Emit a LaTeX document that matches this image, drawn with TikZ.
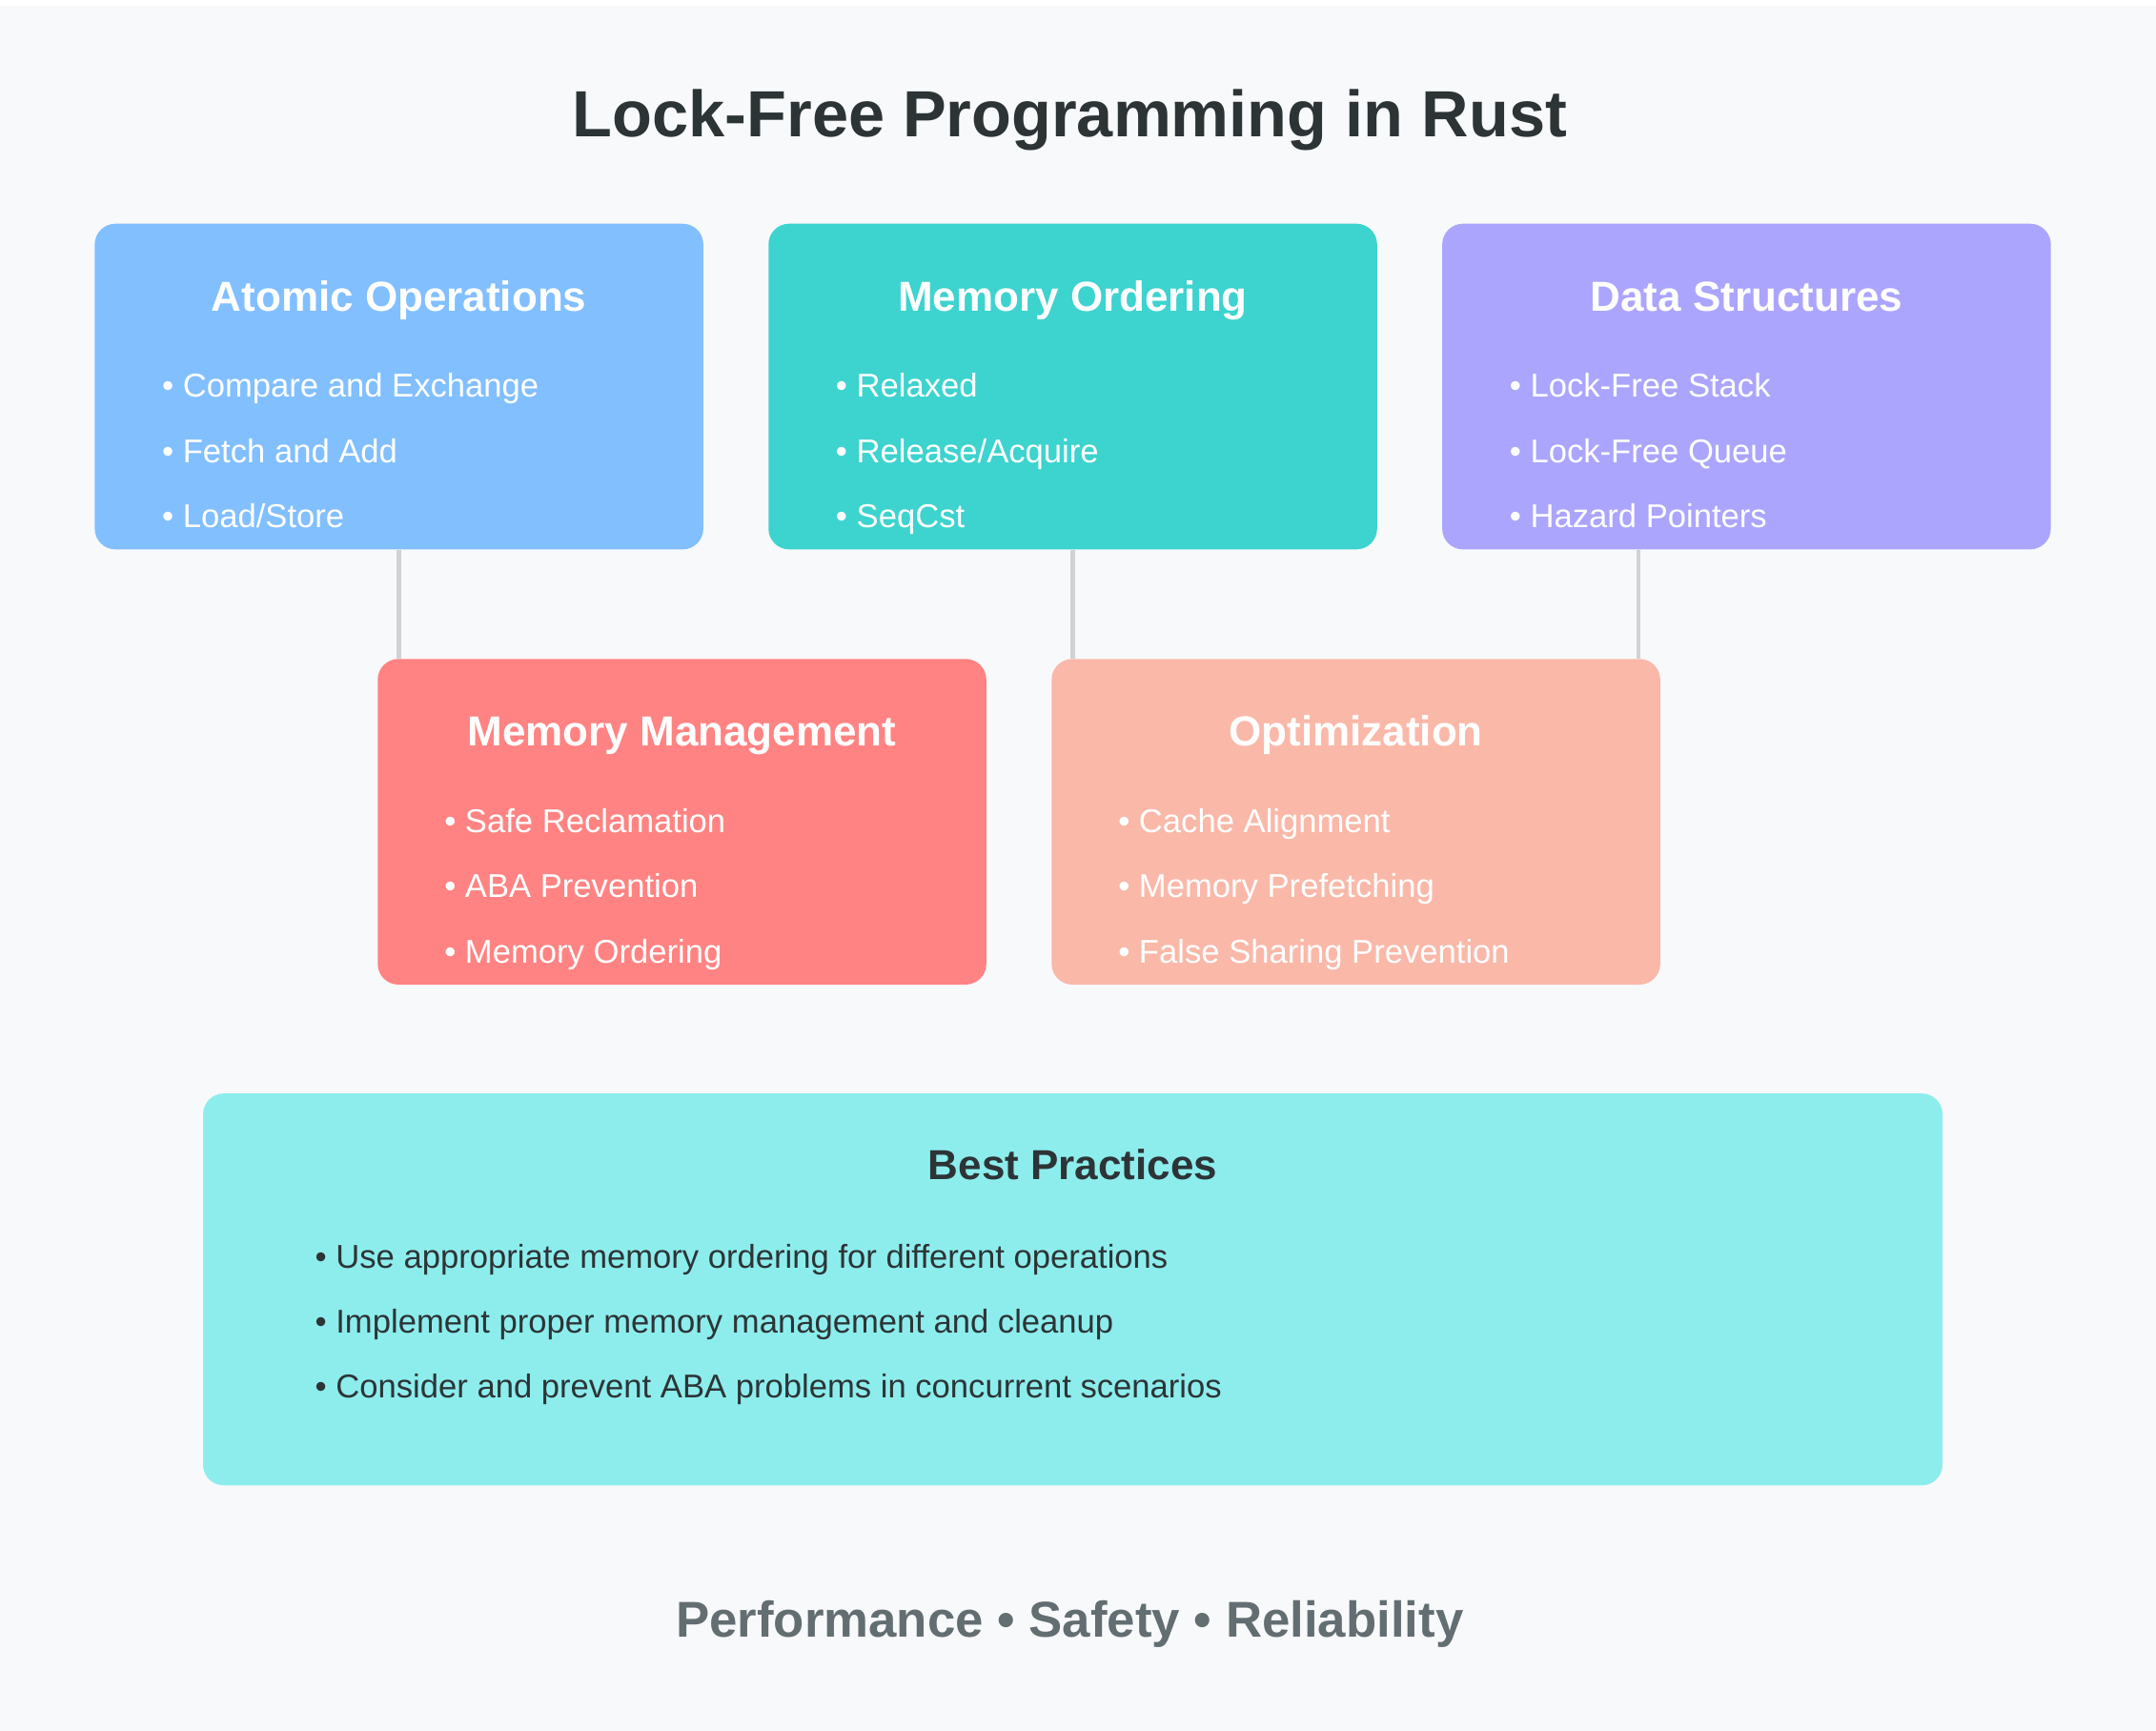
\documentclass[tikz,border=0pt]{standalone}
\usepackage{fontspec}
\setmainfont{Liberation Sans}
\usetikzlibrary{calc}
\definecolor{bgc}{HTML}{F8F9FA}
\definecolor{cA}{HTML}{81BFFF}
\definecolor{cB}{HTML}{3DD3CF}
\definecolor{cC}{HTML}{ABA5FE}
\definecolor{cD}{HTML}{FF8382}
\definecolor{cE}{HTML}{FAB8A9}
\definecolor{cF}{HTML}{8DEDED}
\definecolor{darktxt}{HTML}{2D3436}
\definecolor{graytxt}{HTML}{636E72}
\definecolor{linec}{HTML}{D0D3D4}
\begin{document}
\begin{tikzpicture}[x=1pt,y=-1pt,
  card/.style={rectangle, rounded corners=15pt, minimum width=442.6pt, minimum height=236.8pt, inner sep=0pt, anchor=north west, draw=none},
  head/.style={anchor=base, inner sep=0pt, font=\bfseries\fontsize{30.5}{36}\selectfont, text=white},
  item/.style={anchor=base west, inner sep=0pt, font=\fontsize{24}{28}\selectfont, text=white},
  conn/.style={draw=linec, line width=3pt}]
\useasboundingbox (0,0) rectangle (1568,1258.8);
\fill[white] (0,0) rectangle (1568,1258.8);
\fill[bgc] (0,4.2) rectangle (1568,1258.8);

\node[anchor=base, inner sep=0pt, font=\bfseries\fontsize{47.5}{56}\selectfont, text=darktxt] (title) at (778,99.4) {Lock-Free Programming in Rust};

% top row
\node[card, fill=cA] (b1) at (68.7,162.5) {};
\node[card, fill=cB] (b2) at (558.7,162.5) {};
\node[card, fill=cC] (b3) at (1048.7,162.5) {};
% bottom row
\node[card, fill=cD] (b4) at (274.5,479) {};
\node[card, fill=cE] (b5) at (764.6,479) {};

% connectors
\draw[conn] (b1.south) -- (b1.south |- b4.north);
\draw[conn] (b2.south) -- (b2.south |- b5.north);
\coordinate (c3) at ($(b5.north east)+(-15.8,0)$);
\draw[conn] (c3 |- b3.south) -- (c3);

% box 1
\node[head] (h1) at ($(b1.north)+(0,63.5)$) {Atomic Operations};
\node[item] (i11) at ($(b1.north west)+(49,126.3)$) {• Compare and Exchange};
\node[item] (i12) at ($(b1.north west)+(49,173.8)$) {• Fetch and Add};
\node[item] (i13) at ($(b1.north west)+(49,221.3)$) {• Load/Store};
% box 2
\node[head] (h2) at ($(b2.north)+(0,63.5)$) {Memory Ordering};
\node[item] (i21) at ($(b2.north west)+(49,126.3)$) {• Relaxed};
\node[item] (i22) at ($(b2.north west)+(49,173.8)$) {• Release/Acquire};
\node[item] (i23) at ($(b2.north west)+(49,221.3)$) {• SeqCst};
% box 3
\node[head] (h3) at ($(b3.north)+(0,63.5)$) {Data Structures};
\node[item] (i31) at ($(b3.north west)+(49,126.3)$) {• Lock-Free Stack};
\node[item] (i32) at ($(b3.north west)+(49,173.8)$) {• Lock-Free Queue};
\node[item] (i33) at ($(b3.north west)+(49,221.3)$) {• Hazard Pointers};
% box 4
\node[head] (h4) at ($(b4.north)+(0,63.5)$) {Memory Management};
\node[item] (i41) at ($(b4.north west)+(48.5,126.3)$) {• Safe Reclamation};
\node[item] (i42) at ($(b4.north west)+(48.5,173.8)$) {• ABA Prevention};
\node[item] (i43) at ($(b4.north west)+(48.5,221.3)$) {• Memory Ordering};
% box 5
\node[head] (h5) at ($(b5.north)+(0,63.5)$) {Optimization};
\node[item] (i51) at ($(b5.north west)+(48.5,126.3)$) {• Cache Alignment};
\node[item] (i52) at ($(b5.north west)+(48.5,173.8)$) {• Memory Prefetching};
\node[item] (i53) at ($(b5.north west)+(48.5,221.3)$) {• False Sharing Prevention};

% best practices
\node[card, fill=cF, minimum width=1265pt, minimum height=285pt] (bp) at (147.5,795) {};
\node[head, text=darktxt] (hbp) at ($(bp.north)+(0,63)$) {Best Practices};
\node[item, text=darktxt] (p1) at ($(bp.north west)+(81.5,127)$) {• Use appropriate memory ordering for different operations};
\node[item, text=darktxt] (p2) at ($(bp.north west)+(81.5,174.3)$) {• Implement proper memory management and cleanup};
\node[item, text=darktxt] (p3) at ($(bp.north west)+(81.5,221.6)$) {• Consider and prevent ABA problems in concurrent scenarios};

\node[anchor=base, inner sep=0pt, font=\bfseries\fontsize{36.6}{44}\selectfont, text=graytxt] (foot) at (778,1190.7) {Performance • Safety • Reliability};
\end{tikzpicture}
\end{document}
